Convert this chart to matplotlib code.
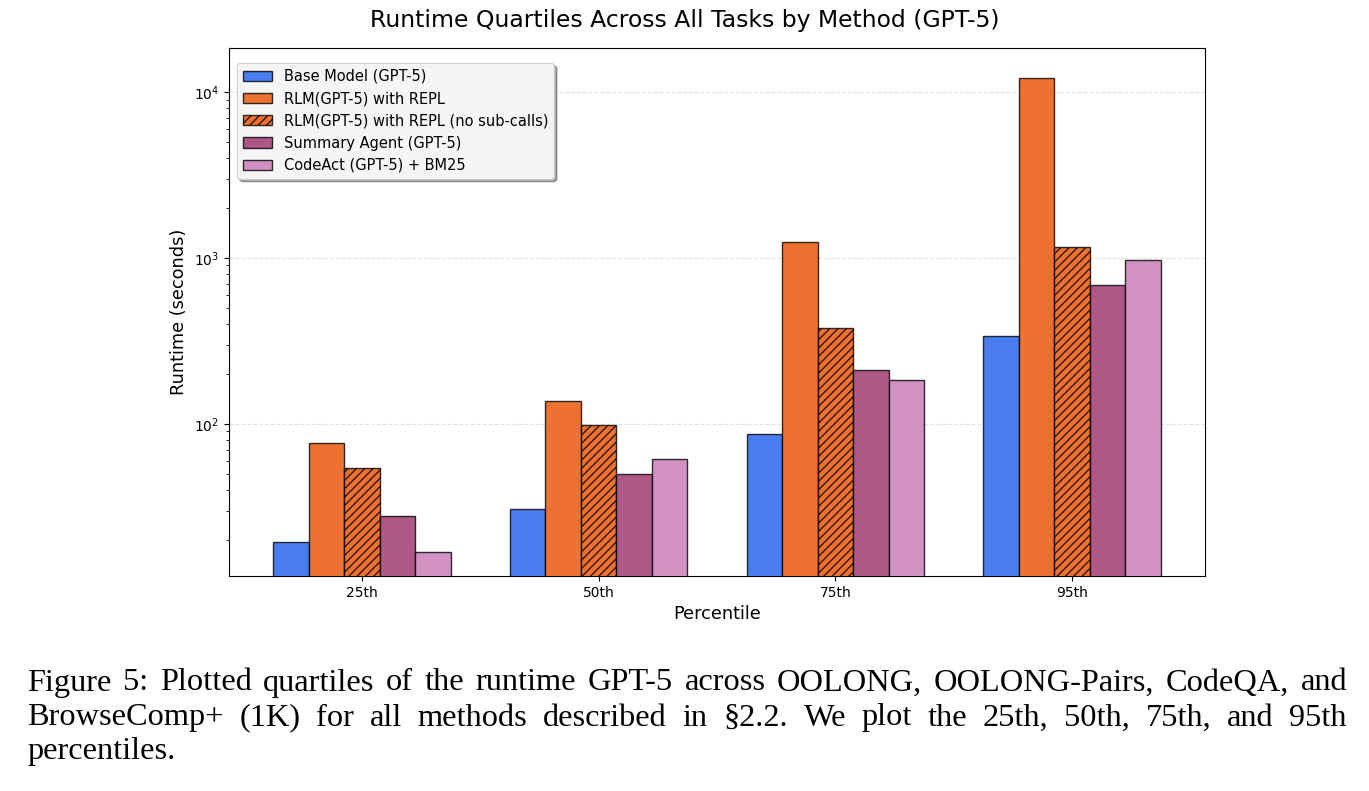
import matplotlib
matplotlib.use("Agg")
import matplotlib.pyplot as plt
import numpy as np

percentiles = ["25th", "50th", "75th", "95th"]
methods = ["Base Model (GPT-5)", "RLM(GPT-5) with REPL", "RLM(GPT-5) with REPL (no sub-calls)",
           "Summary Agent (GPT-5)", "CodeAct (GPT-5) + BM25"]
base_model = [19.5, 30.8, 87, 339]
rlm_repl = [77, 138, 1249, 12150]
rlm_nosub = [54.3, 98.6, 378, 1165]
summary_agent = [27.9, 50, 211, 687]
codeact_bm25 = [16.9, 61.5, 184, 972]
series = [base_model, rlm_repl, rlm_nosub, summary_agent, codeact_bm25]
colors = ["#4A7DF0", "#ED7231", "#ED7231", "#AF5787", "#D191C2"]
hatches = [None, None, "////", None, None]

caption_lines = [
    "Figure 5: Plotted quartiles of the runtime GPT-5 across OOLONG, OOLONG-Pairs, CodeQA, and",
    "BrowseComp+ (1K) for all methods described in \u00a72.2.  We plot the 25th, 50th, 75th, and 95th",
    "percentiles.",
]

plt.rcParams['hatch.linewidth'] = 1.0
W, H = 1369, 791
fig = plt.figure(figsize=(W/100, H/100), dpi=100)
ax = fig.add_axes([229/W, 1-576/H, (1205-229)/W, (576-48)/H])

x = np.arange(len(percentiles))
bw = 0.15
for i, (vals, c, h) in enumerate(zip(series, colors, hatches)):
    ax.bar(x + (i-2)*bw, vals, bw, color=c, edgecolor=(0, 0, 0, 0.8), linewidth=1.0,
           hatch=h, label=methods[i], zorder=3)
ax.set_yscale("log")
ax.set_ylim(12.1, 18400)
ax.set_xticks(x)
ax.set_xticklabels(percentiles, fontsize=10)
ax.tick_params(axis='y', labelsize=10)
ax.set_xlabel("Percentile", fontsize=12.8)
ax.set_ylabel("Runtime (seconds)", fontsize=12.8)
fig.text(0.5, 1-21/H, "Runtime Quartiles Across All Tasks by Method (GPT-5)", fontsize=16.9,
         ha='center', va='center')
ax.grid(axis='y', which='major', linestyle='--', color='#dddddd', alpha=0.8, zorder=0)
leg = ax.legend(loc='upper left', fontsize=10.5, shadow=True, fancybox=True, framealpha=0.9,
                borderaxespad=0.0, bbox_to_anchor=(0.0082, 0.9716))

# caption, justified
fig.canvas.draw()
renderer = fig.canvas.get_renderer()
x0, x1 = 27, 1347
ys = [683, 718, 752]
fs = 23.3
for li, (line, yy) in enumerate(zip(caption_lines, ys)):
    if li < 2:
        words = [w for w in line.split(" ") if w != ""]
        widths = []
        for w_ in words:
            t = fig.text(0, 0, w_, fontsize=fs, family="Liberation Serif")
            bb = t.get_window_extent(renderer)
            widths.append(bb.width)
            t.remove()
        gap = (x1 - x0 - sum(widths)) / (len(words) - 1)
        cx = x0
        for w_, wd in zip(words, widths):
            fig.text(cx/W, 1-yy/H, w_, fontsize=fs, family="Liberation Serif", va='center', ha='left')
            cx += wd + gap
    else:
        fig.text(x0/W, 1-yy/H, line, fontsize=fs, family="Liberation Serif", va='center', ha='left')

fig.savefig("out.png", dpi=100)
